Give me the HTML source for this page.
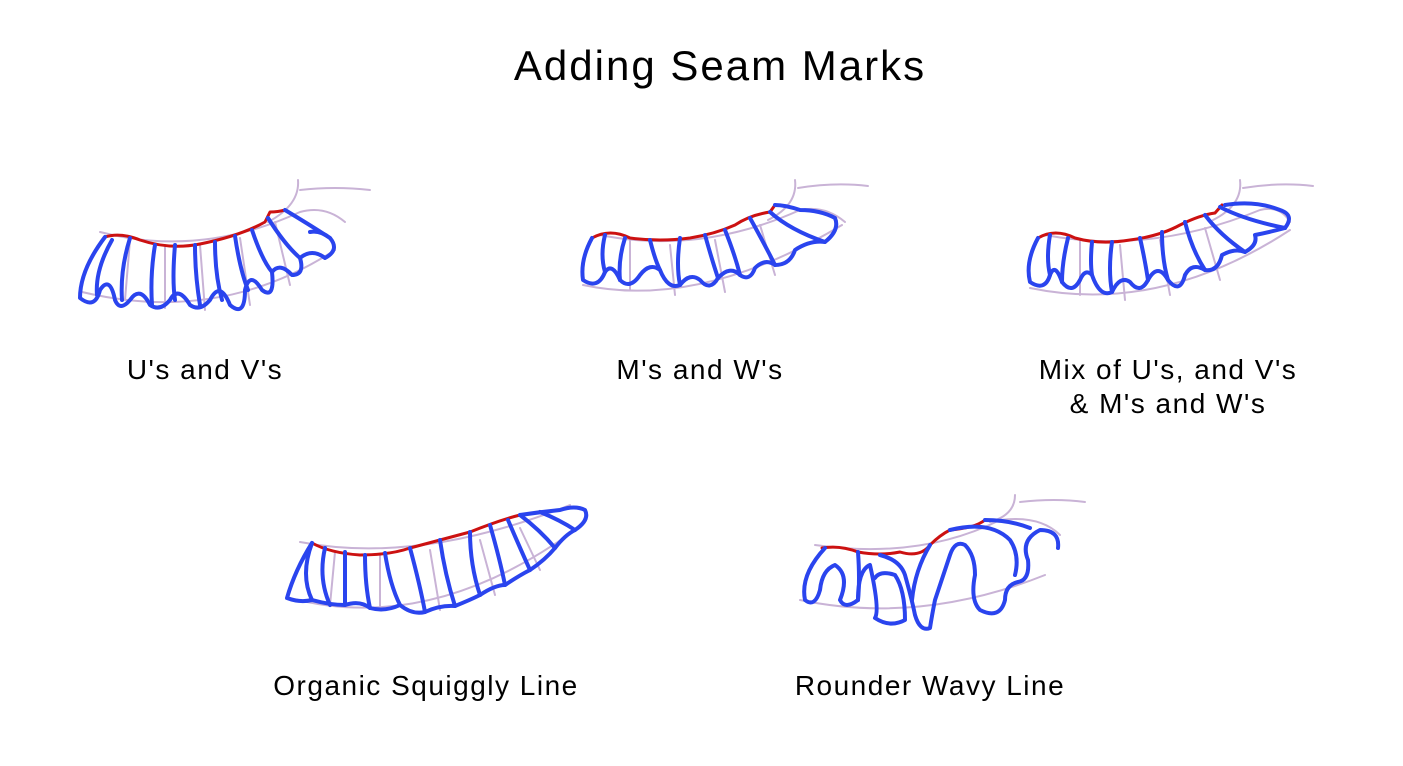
<!DOCTYPE html>
<html><head><meta charset="utf-8"><style>
html,body{margin:0;padding:0;background:#fff;}
svg{display:block}
text{font-family:"Liberation Sans",sans-serif;fill:#000}
</style></head><body>
<svg width="1403" height="766" viewBox="0 0 1403 766" xmlns="http://www.w3.org/2000/svg">
<text x="720" y="80" font-size="42" letter-spacing="2" text-anchor="middle">Adding Seam Marks</text>
<g font-size="28" letter-spacing="1.5" text-anchor="middle">
<text x="205" y="379">U's and V's</text>
<text x="700" y="379">M's and W's</text>
<text x="1168" y="379">Mix of U's, and V's</text>
<text x="1168" y="413">&amp; M's and W's</text>
<text x="426" y="695">Organic Squiggly Line</text>
<text x="930" y="695">Rounder Wavy Line</text>
</g>

<g fill="none" stroke-linecap="round" stroke-linejoin="round">
<!-- Ruffle 1 -->
<g stroke="#c9b3d6" stroke-width="2">
<path d="M100,232 Q200,258 300,212 Q325,205 345,222"/>
<path d="M298,180 Q300,205 268,222"/>
<path d="M300,190 Q335,186 370,190"/>
<path d="M82,292 Q220,325 335,250"/>
<path d="M130,240 L125,300 M165,245 L165,308 M200,245 L205,310 M240,238 L250,305 M275,222 L290,285"/>
</g>
<path stroke="#cc1111" stroke-width="3" d="M105,237 Q120,232 140,240 Q170,250 200,244 Q240,236 265,222 L270,212 Q278,212 285,210"/>
<g stroke="#2a44ee" stroke-width="4">
<path d="M105,237 Q80,270 80,298 Q95,310 100,290 Q110,275 115,300 Q120,312 130,300 Q140,285 150,305 Q160,312 170,300 Q178,285 190,305 Q200,312 210,300 Q220,280 230,305 Q245,318 245,290 Q250,270 262,290 Q275,300 272,272 Q280,262 292,275 Q305,275 300,258 Q312,248 325,258 Q340,250 330,238 Q320,230 310,232"/>
<path d="M112,240 Q95,270 97,295 M130,238 Q120,270 122,300 M155,245 Q150,275 152,305 M175,245 Q172,280 175,300 M195,245 Q195,275 200,305 M215,242 Q215,275 222,300 M235,236 Q240,270 248,290 M252,230 Q262,260 272,272 M268,218 Q285,245 300,258 M285,210 Q310,225 330,238"/>
</g>

<!-- Ruffle 2 -->
<g stroke="#c9b3d6" stroke-width="2">
<path d="M600,235 Q700,255 800,210 Q825,205 845,222"/>
<path d="M795,180 Q798,205 768,220"/>
<path d="M798,188 Q835,182 868,186"/>
<path d="M583,285 Q700,310 842,225"/>
<path d="M630,240 L630,290 M670,245 L675,295 M715,240 L725,292 M760,225 L775,275"/>
</g>
<path stroke="#cc1111" stroke-width="3" d="M592,238 Q610,228 630,238 Q660,242 690,238 Q715,234 735,225 Q750,215 770,212 L775,205"/>
<g stroke="#2a44ee" stroke-width="4">
<path d="M592,238 Q580,260 583,280 Q598,290 605,272 Q612,262 620,280 Q630,290 640,275 Q650,262 660,270 Q668,290 680,285 Q690,272 700,280 Q710,292 718,278 Q730,265 740,275 Q750,282 755,268 Q765,258 775,265 Q790,265 795,250 Q810,240 825,242 Q840,230 835,218 Q820,210 800,210 Q785,205 775,205"/>
<path d="M605,235 Q600,255 605,272 M625,238 Q618,260 620,280 M650,240 Q655,260 660,270 M680,238 Q676,265 680,285 M705,235 Q712,260 718,278 M725,230 Q735,255 740,275 M750,218 Q765,245 775,265 M770,212 Q790,230 825,242"/>
</g>

<!-- Ruffle 3 -->
<g stroke="#c9b3d6" stroke-width="2">
<path d="M1045,235 Q1150,255 1260,210 Q1280,205 1290,222"/>
<path d="M1240,180 Q1243,205 1213,220"/>
<path d="M1243,188 Q1280,182 1313,186"/>
<path d="M1030,288 Q1160,315 1290,230"/>
<path d="M1080,240 L1080,295 M1120,245 L1125,300 M1160,240 L1170,295 M1205,228 L1220,280"/>
</g>
<path stroke="#cc1111" stroke-width="3" d="M1038,238 Q1055,228 1075,238 Q1100,245 1130,240 Q1160,236 1180,225 Q1200,215 1215,213 L1222,205"/>
<g stroke="#2a44ee" stroke-width="4">
<path d="M1038,238 Q1025,262 1030,282 Q1045,292 1050,275 Q1055,262 1062,282 Q1072,295 1080,280 Q1085,268 1092,275 Q1100,298 1112,292 Q1120,275 1130,282 Q1140,295 1148,280 Q1158,262 1168,280 Q1180,295 1185,275 Q1192,262 1205,270 Q1218,272 1222,255 Q1235,248 1245,252 Q1258,245 1255,235 Q1270,232 1285,228 Q1295,215 1280,210 Q1255,200 1225,205"/>
<path d="M1050,235 Q1046,258 1050,275 M1068,238 Q1062,262 1062,282 M1092,242 Q1090,262 1092,275 M1112,242 Q1108,270 1112,292 M1140,238 Q1145,260 1148,280 M1162,232 Q1162,260 1168,280 M1185,222 Q1192,250 1205,270 M1205,215 Q1220,235 1245,252 M1220,207 Q1245,220 1285,228"/>
</g>

<!-- Ruffle 4 -->
<g stroke="#c9b3d6" stroke-width="2">
<path d="M300,542 Q420,565 570,505"/>
<path d="M290,598 Q430,635 575,530"/>
<path d="M335,552 L330,605 M380,555 L380,610 M430,550 L440,610 M480,540 L495,595 M520,528 L540,570"/>
</g>
<path stroke="#cc1111" stroke-width="3" d="M312,543 Q330,553 360,555 Q390,555 410,548 Q440,540 470,532 Q500,520 520,515"/>
<g stroke="#2a44ee" stroke-width="4">
<path d="M312,543 Q295,570 287,598 Q300,603 312,600 Q330,605 345,605 Q360,600 370,608 Q385,612 400,605 Q412,615 425,612 Q440,605 455,606 Q470,600 480,595 Q495,585 505,585 Q520,575 530,570 Q545,560 555,548 Q565,535 575,530 Q590,520 585,510 Q575,505 560,510 Q540,512 520,515"/>
<path d="M312,543 Q300,575 312,600 M325,548 Q318,578 330,605 M345,552 Q345,585 345,605 M365,555 Q365,585 370,608 M385,553 Q390,585 400,605 M410,548 Q420,585 425,612 M440,540 Q445,575 455,606 M470,532 Q470,565 480,595 M490,525 Q500,560 505,585 M508,520 Q520,548 530,570 M520,515 Q540,530 555,548 M540,512 Q560,520 575,530"/>
</g>

<!-- Ruffle 5 -->
<g stroke="#c9b3d6" stroke-width="2">
<path d="M815,545 Q920,560 1000,520 Q1040,515 1060,535"/>
<path d="M1015,495 Q1015,515 990,522"/>
<path d="M1020,502 Q1055,498 1085,502"/>
<path d="M800,600 Q920,625 1045,575"/>
</g>
<path stroke="#cc1111" stroke-width="3" d="M822,548 Q840,545 858,552 Q880,556 900,552 Q920,558 930,545 Q940,535 950,530 Q975,528 985,520"/>
<g stroke="#2a44ee" stroke-width="4">
<path d="M825,548 Q800,575 805,600 Q815,608 820,590 Q822,570 835,565 Q850,575 840,600 Q845,610 858,600 Q858,570 870,565 Q880,610 875,618 Q890,628 905,620 Q905,590 895,575 Q880,570 875,578"/>
<path d="M858,552 Q860,580 858,600 M880,555 Q900,560 905,575 Q912,600 915,615 Q920,632 930,628 Q932,615 935,600 Q945,570 950,555 Q955,540 965,545 Q975,555 975,575 Q970,600 980,610 Q1000,620 1005,600 Q1005,585 1018,582 Q1030,580 1028,560 Q1020,540 1040,530 Q1060,530 1058,548"/>
<path d="M930,545 Q915,570 912,600 M950,530 Q990,520 1010,540 Q1020,555 1015,575 M985,520 Q1010,520 1030,528"/>
</g>
</g>
</svg>
</body></html>
